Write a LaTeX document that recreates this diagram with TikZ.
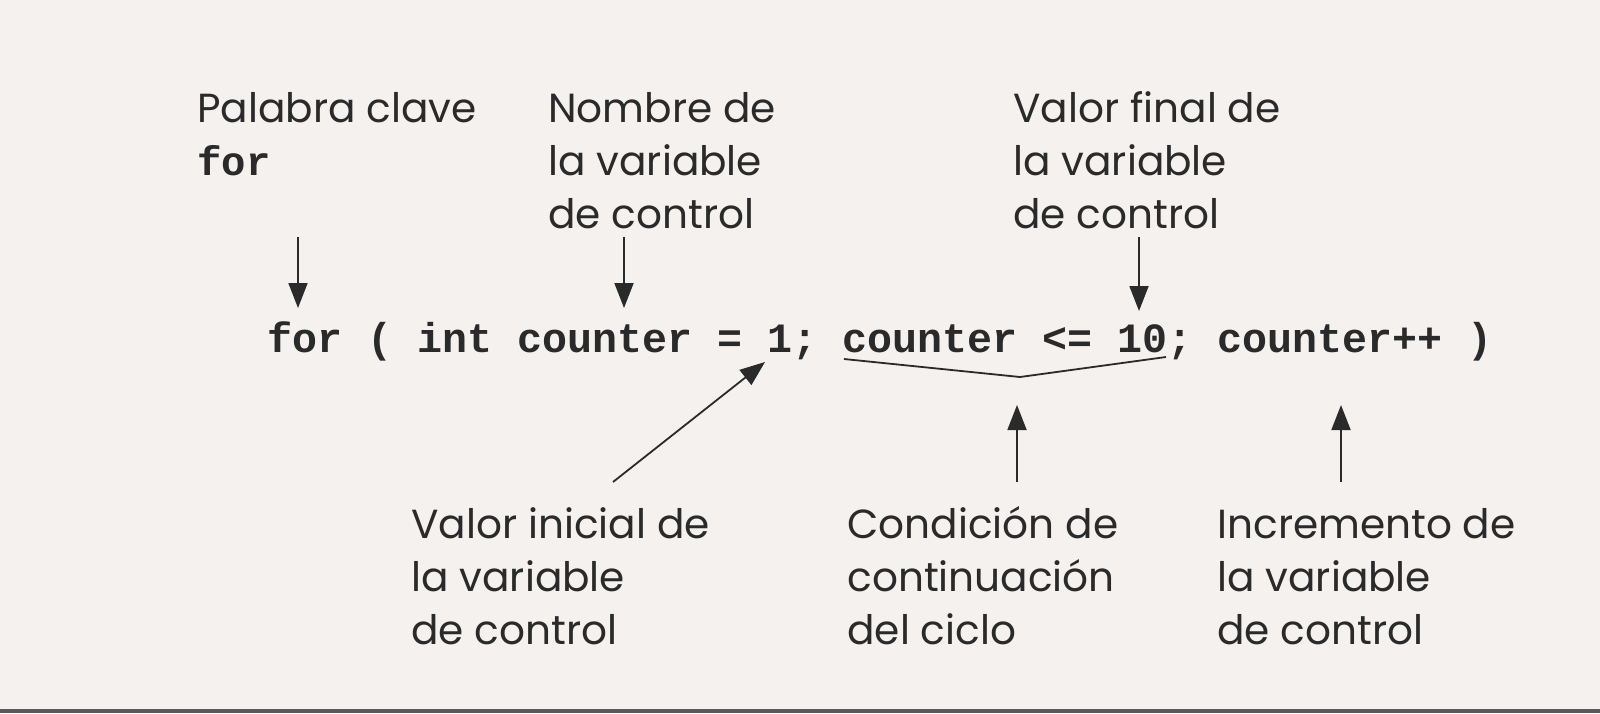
\documentclass[tikz,border=0pt]{standalone}
\usepackage{fontspec}
\setmainfont{Poppins}
\newfontfamily\codefont{Liberation Mono}
\usetikzlibrary{arrows.meta}
\definecolor{paper}{HTML}{F4F1EE}
\definecolor{ink}{HTML}{2A2A2A}
\begin{document}
\begin{tikzpicture}[x=0.5pt,y=-0.5pt,
  lbl/.style={anchor=base west, inner sep=0pt, align=left,
    font=\fontsize{20.3}{26.5}\selectfont, text=ink},
  codetxt/.style={anchor=base west, inner sep=0pt,
    font=\codefont\bfseries\fontsize{20.83}{25}\selectfont, text=ink},
  ptr/.style={draw=ink, line width=0.9pt, -{Triangle[length=12.5pt,width=9.5pt]}},
  brace/.style={draw=ink, line width=0.9pt}]
\fill[paper] (0,0) rectangle (1600,713);
\useasboundingbox (0,0) rectangle (1600,713);
\fill[black!65] (0,709) rectangle (1600,713);

% top labels (anchor = baseline of the last line)
\node[lbl] (kw) at (197,175) {Palabra clave\\{\codefont\bfseries for}};
\node[lbl] (name) at (548,228) {Nombre de\\la variable\\de control};
\node[lbl] (final) at (1013,228) {Valor final de\\la variable\\de control};

% code line
\node[codetxt] (code) at (267,352) {for ( int counter = 1; counter <= 10; counter++ )};

% bottom labels
\node[lbl] (init) at (411,644) {Valor inicial de\\la variable\\de control};
\node[lbl] (cond) at (847,644) {Condición de\\continuación\\del ciclo};
\node[lbl] (incr) at (1217,644) {Incremento de\\la variable\\de control};

% arrow endpoints
\coordinate (kwS) at (298,237);   \coordinate (kwT) at (298,308);
\coordinate (nmS) at (624,237);   \coordinate (nmT) at (624,308);
\coordinate (fnS) at (1139,237);  \coordinate (fnT) at (1139,311);
\coordinate (inS) at (613,482);   \coordinate (inT) at (765,362);
\coordinate (cdS) at (1017,482);  \coordinate (cdT) at (1017,405);
\coordinate (icS) at (1341,482);  \coordinate (icT) at (1341,405);
\coordinate (ul1) at (844,359);   \coordinate (apex) at (1020,377);
\coordinate (ul2) at (1166,357);

\draw[ptr] (kwS) -- (kwT);
\draw[ptr] (nmS) -- (nmT);
\draw[ptr] (fnS) -- (fnT);
\draw[ptr] (inS) -- (inT);
\draw[ptr] (cdS) -- (cdT);
\draw[ptr] (icS) -- (icT);
\draw[brace] (ul1) -- (apex) -- (ul2);
\end{tikzpicture}
\end{document}
